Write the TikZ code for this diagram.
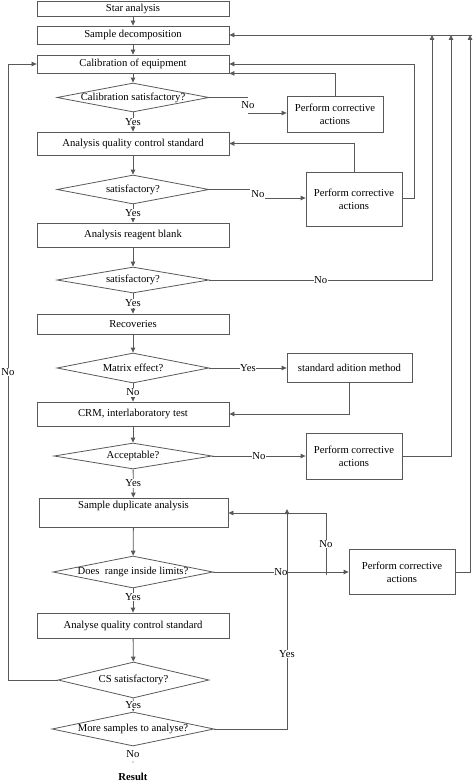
\documentclass[tikz,border=0pt]{standalone}
\usepackage{fontspec}
\setmainfont{Liberation Serif}
\usetikzlibrary{shapes.geometric,arrows.meta}
\begin{document}
\begin{tikzpicture}[x=1bp,y=-1bp,
  every node/.style={font=\fontsize{10.7}{13}\selectfont, text=black},
  ln/.style={draw=black!65, line width=0.8bp},
  arr/.style={ln, -{Triangle[length=5bp,width=4.5bp]}},
  box/.style={ln, rectangle, inner sep=0pt, align=center},
  dia/.style={ln, diamond, inner sep=0pt},
  lab/.style={fill=white, inner sep=0.6bp}]
\useasboundingbox (0,0) rectangle (474,782);
% main column
\node[box, minimum width=192bp, minimum height=15bp] (star) at (133,8.5) {Star analysis};
\node[box, minimum width=192bp, minimum height=18bp] (sdec) at (133,35) {Sample decomposition};
\node[box, minimum width=192bp, minimum height=18bp] (cal) at (133,64) {Calibration of equipment};
\node[dia, minimum width=152bp, minimum height=29bp] (d1) at (133,97.5) {};
\node (d1t) at (d1) {Calibration satisfactory?};
\node[box, minimum width=192bp, minimum height=23bp] (aqc) at (133,143.5) {Analysis quality control standard};
\node[dia, minimum width=152bp, minimum height=29bp] (d2) at (133,189.5) {};
\node (d2t) at (d2) {satisfactory?};
\node[box, minimum width=192bp, minimum height=24bp] (arb) at (133,235) {Analysis reagent blank};
\node[dia, minimum width=152bp, minimum height=26bp] (d3) at (133,280) {};
\node (d3t) at (d3) {satisfactory?};
\node[box, minimum width=192bp, minimum height=20bp] (rec) at (133,324) {Recoveries};
\node[dia, minimum width=152bp, minimum height=30bp] (d4) at (133,368) {};
\node (d4t) at (d4) {Matrix effect?};
\node[box, minimum width=192bp, minimum height=24bp] (crm) at (133,414) {CRM, interlaboratory test};
\node[dia, minimum width=158bp, minimum height=26bp] (d5) at (133,456) {};
\node (d5t) at (d5) {Acceptable?};
\node[box, minimum width=189bp, minimum height=29bp] (sda) at (133.5,512.5) {};
\node (sdat) at (133.5,506) {Sample duplicate analysis};
\node[dia, minimum width=160bp, minimum height=32bp] (d6) at (133,572) {};
\node (d6t) at (d6) {Does\ \ range inside limits?};
\node[box, minimum width=192bp, minimum height=25bp] (aqs) at (133,625.5) {Analyse quality control standard};
\node[dia, minimum width=151bp, minimum height=36bp] (d7) at (133.5,680) {};
\node (d7t) at (d7) {CS satisfactory?};
\node[dia, minimum width=162bp, minimum height=34bp] (d8) at (133,729) {};
\node (d8t) at (d8) {More samples to analyse?};
\node (no8) at (133,754) {No};
\node[font=\fontsize{10.7}{13}\selectfont\bfseries] (res) at (133,777) {Result};
\fill[black!65] (133,762) circle (0.7bp);
% side boxes
\node[box, minimum width=96bp, minimum height=36bp] (c1) at (335,114) {Perform corrective\\actions};
\node[box, minimum width=96bp, minimum height=54bp] (c2) at (354,199) {Perform corrective\\actions};
\node[box, minimum width=125bp, minimum height=29bp] (sam) at (349.5,368) {standard adition method};
\node[box, minimum width=96bp, minimum height=46bp] (c3) at (354,456) {Perform corrective\\actions};
\node[box, minimum width=106bp, minimum height=45bp] (c4) at (402,572) {Perform corrective\\actions};
% main arrows
\draw[arr] (star) -- (sdec);
\draw[arr] (sdec) -- (cal);
\draw[arr] (cal) -- (d1);
\draw[arr] (d1) -- node[lab]{Yes} (aqc);
\draw[arr] (aqc) -- (d2);
\draw[arr] (d2) -- node[lab]{Yes} (arb);
\draw[arr] (arb) -- (d3);
\draw[arr] (d3) -- node[lab]{Yes} (rec);
\draw[arr] (rec) -- (d4);
\draw[arr] (d4) -- node[lab]{No} (crm);
\draw[arr] (crm) -- (d5);
\draw[arr] (d5) -- node[lab]{Yes} (sda);
\draw[arr] (sda) -- (d6);
\draw[arr] (d6) -- node[lab,pos=0.35]{Yes} (aqs);
\draw[arr] (aqs) -- (d7);
\draw[arr] (d7) -- node[lab]{Yes} (d8);
% left loop
\draw[arr] (d7.west) -- (8,680) -- node[lab]{No} (8,64) -- (cal.west);
% first corrective
\draw[ln] (d1.east) -- (248,97.5);
\node (no1) at (248,105.5) {No};
\draw[arr] (248,113) -- (c1.west |- 0,113);
\draw[arr] (c1.north) |- (cal.south east);
% second corrective
\draw[ln] (d2.east) -- (250,189.5);
\node (no2) at (258,194) {No};
\draw[arr] (265,198) -- (c2.west |- 0,198);
\draw[arr] (c2.north) |- (aqc.east);
\draw[arr] (c2.east |- 0,198) -- (414,198) |- (cal.east);
% right return lines
\draw[arr] (472,35) -- (sdec.east);
\draw[arr] (d3.east) -- node[lab]{No} (432,280) -- (432,35);
\draw[arr] (c3.east) -- (451,456) -- (451,35);
\draw[arr] (c4.east) -- (470,572) -- (470,35);
% matrix effect
\draw[arr] (d4.east) -- node[lab]{Yes} (sam.west);
\draw[arr] (sam.south) |- (crm.east);
% acceptable
\draw[arr] (d5.east) -- node[lab]{No} (c3.west);
% range
\draw[arr] (d6.east) -- node[lab]{No} (c4.west);
\draw[arr] (326,575) -- node[lab]{No} (326,513) -- (sda.east |- 0,513);
% more samples
\draw[arr] (d8.east) -- (287,729) -- node[lab,pos=0.34]{Yes} (287,509);
\end{tikzpicture}
\end{document}
